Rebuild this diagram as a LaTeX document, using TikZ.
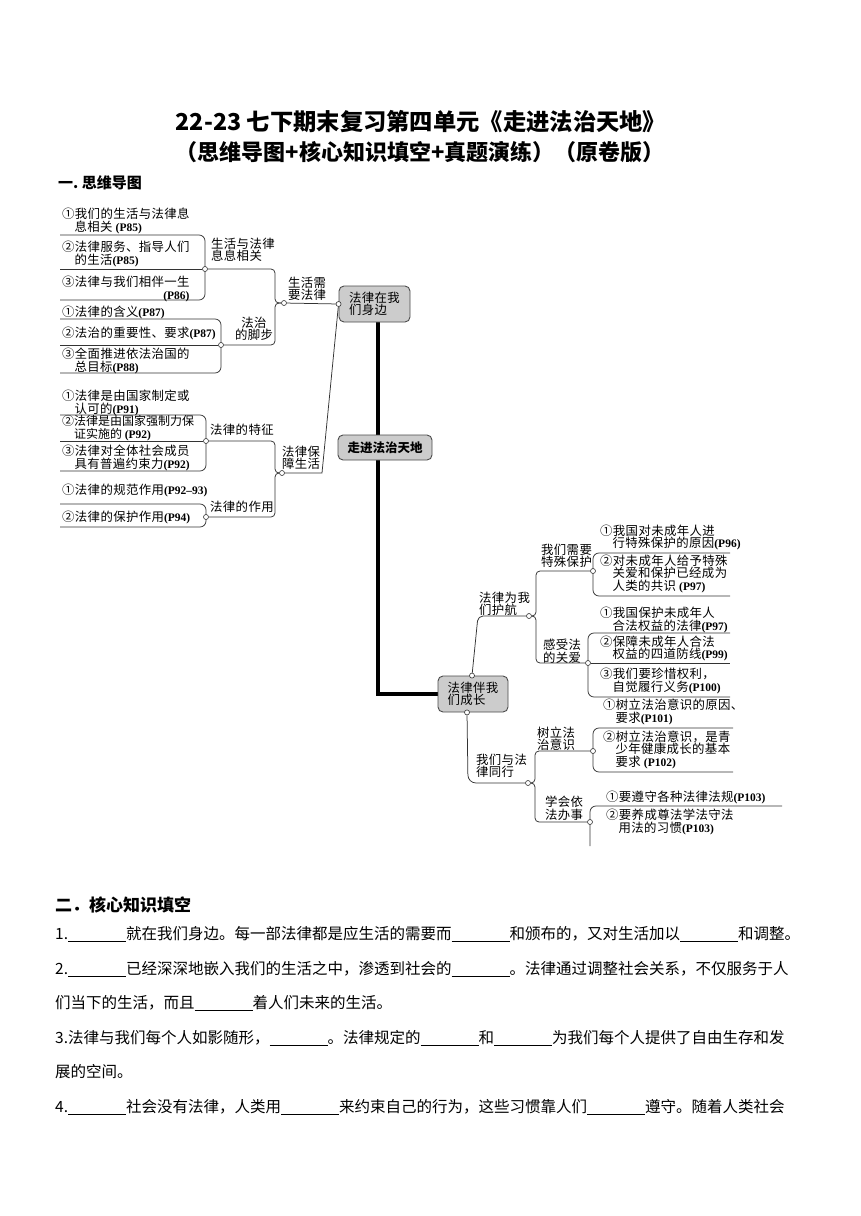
\documentclass[tikz,border=0pt]{standalone}
\usepackage{fontspec}
\setmainfont{Noto Sans CJK SC}
\newfontfamily\mmfont[LetterSpace=3]{Noto Sans CJK SC}
\newfontfamily\mmfontn{Noto Sans CJK SC}
\newfontfamily\latfont{Liberation Serif}
\usetikzlibrary{backgrounds}
\newcommand\pgnum[1]{{\latfont\bfseries\fontsize{11.5}{12.5}\selectfont(#1)}}
\newcommand\bk{\rule[-1.5pt]{58pt}{0.6pt}}
\begin{document}
\begin{tikzpicture}[x=1pt,y=-1pt,
  mm/.style={font=\mmfont\fontsize{12.4}{12.5}\selectfont, inner sep=0pt, align=left, anchor=west, text=black},
  mmc/.style={mm, anchor=center, align=center},
  ln/.style={line width=0.75pt, draw=black!80},
  dot/.style={circle, draw=black!80, fill=white, inner sep=0pt, minimum size=5pt, line width=0.6pt},
  box/.style={draw=black!70, fill=black!20, rounded corners=5pt, line width=0.9pt, inner sep=0pt, align=left, text=black},
  body/.style={anchor=west, inner sep=0pt, font=\fontsize{15.5}{18}\selectfont},
  thickln/.style={line width=4.5pt, draw=black}
]
\useasboundingbox (0,0) rectangle (860,1216);

% titles
\node[font=\fontsize{23.3}{26}\selectfont\bfseries] (t1) at (421,122) {22-23 七下期末复习第四单元《走进法治天地》};
\node[font=\fontsize{22}{26}\selectfont\bfseries] (t2) at (420,152) {（思维导图+核心知识填空+真题演练）（原卷版）};
\node[anchor=west, inner sep=0pt, font=\fontsize{15}{17}\selectfont\bfseries] (h1) at (58,183) {一.\ 思维导图};

% central boxes
\node[box, minimum width=71pt, minimum height=36pt, font=\mmfont\fontsize{12.4}{12.5}\selectfont] (box1) at (374.5,304) {法律在我\\们身边};
\node[box, minimum width=94pt, minimum height=25pt, font=\mmfontn\fontsize{12.5}{14}\selectfont\bfseries] (box3) at (385,447.5) {走进法治天地};
\node[box, minimum width=70pt, minimum height=36pt, font=\mmfont\fontsize{12.4}{12.5}\selectfont] (box2) at (473,694) {法律伴我\\们成长};
\node[dot] (d1) at (box1.west) {};
\node[dot] (dt) at ([xshift=-1pt]box2.north) {};
\node[dot] (db) at ([xshift=-6pt]box2.south) {};

% left upper: 生活需要法律
\node[mm] (a1) at (62,221) {①我们的生活与法律息\\\hspace*{1em}息相关 \pgnum{P85}};
\node[mm] (a2) at (62,254) {②法律服务、指导人们\\\hspace*{1em}的生活\pgnum{P85}};
\node[mm, align=right] (a3) at (62,289) {③法律与我们相伴一生\\\pgnum{P86}};
\node[dot] (jA) at (205,269) {};
\node[mm] (la) at (211,250) {生活与法律\\息息相关};
\node[mm] (b1) at (62,312) {①法律的含义\pgnum{P87}};
\node[mm] (b2) at (62,333) {②法治的重要性、要求\pgnum{P87}};
\node[mm] (b3) at (62,361) {③全面推进依法治国的\\\hspace*{1em}总目标\pgnum{P88}};
\node[dot] (jB) at (221,345) {};
\node[mmc] (lb) at (254,329) {法治\\的脚步};
\node[dot] (jS) at (284,303) {};
\node[mm] (ls) at (288,289) {生活需\\要法律};

% left lower: 法律保障生活
\node[mm] (c1) at (62,403) {①法律是由国家制定或\\\hspace*{1em}认可的\pgnum{P91}};
\node[mm, font=\mmfontn\fontsize{12}{12.5}\selectfont] (c2) at (62,428) {②法律是由国家强制力保\\\hspace*{1em}证实施的 \pgnum{P92}};
\node[mm] (c3) at (62,458) {③法律对全体社会成员\\\hspace*{1em}具有普遍约束力\pgnum{P92}};
\node[dot] (jC1) at (206,441) {};
\node[mm] (lc1) at (210,430) {法律的特征};
\node[mm] (c4) at (62,490) {①法律的规范作用\pgnum{P92–93}};
\node[mm] (c5) at (62,517) {②法律的保护作用\pgnum{P94}};
\node[dot] (jC2) at (206,517) {};
\node[mm] (lc2) at (210,507) {法律的作用};
\node[dot] (jC) at (282,473) {};
\node[mmc] (lc) at (301,458) {法律保\\障生活};

% right upper: 法律为我们护航
\node[dot] (jR1) at (529,616) {};
\node[mm] (lr1) at (479,604) {法律为我\\们护航};
\node[dot] (jR1a) at (593,571) {};
\node[mm] (lr1a) at (541,556) {我们需要\\特殊保护};
\node[mm] (r1) at (600,537.5) {①我国对未成年人进\\\hspace*{1em}行特殊保护的原因\pgnum{P96}};
\node[mm] (r2) at (600,573.5) {②对未成年人给予特殊\\\hspace*{1em}关爱和保护已经成为\\\hspace*{1em}人类的共识 \pgnum{P97}};
\node[dot] (jR1b) at (588,663) {};
\node[mm] (lr1b) at (543,651) {感受法\\的关爱};
\node[mm] (r3) at (600,620) {①我国保护未成年人\\\hspace*{1em}合法权益的法律\pgnum{P97}};
\node[mm] (r4) at (600,648.5) {②保障未成年人合法\\\hspace*{1em}权益的四道防线\pgnum{P99}};
\node[mm] (r5) at (600,681) {③我们要珍惜权利，\\\hspace*{1em}自觉履行义务\pgnum{P100}};

% right lower: 我们与法律同行
\node[dot] (jR2) at (528,783) {};
\node[mm] (lr2) at (476,766) {我们与法\\律同行};
\node[dot] (jR2a) at (593,751) {};
\node[mm] (lr2a) at (537,738.5) {树立法\\治意识};
\node[mm] (r6) at (603,712) {①树立法治意识的原因、\\\hspace*{1em}要求\pgnum{P101}};
\node[mm] (r7) at (603,749.5) {②树立法治意识，是青\\\hspace*{1em}少年健康成长的基本\\\hspace*{1em}要求 \pgnum{P102}};
\node[dot] (jR2b) at (590,822) {};
\node[mm] (lr2b) at (545,808) {学会依\\法办事};
\node[mm] (r8) at (606,797) {①要遵守各种法律法规\pgnum{P103}};
\node[mm] (r9) at (606,822) {②要养成尊法学法守法\\\hspace*{1em}用法的习惯\pgnum{P103}};

% section two
\node[anchor=west, inner sep=0pt, font=\fontsize{17}{19}\selectfont\bfseries] (h2) at (55,905) {二．核心知识填空};
\node[body] (p1) at (55,934) {1.\bk 就在我们身边。每一部法律都是应生活的需要而\bk 和颁布的，又对生活加以\bk 和调整。};
\node[body] (p2) at (55,969) {2.\bk 已经深深地嵌入我们的生活之中，渗透到社会的\bk 。法律通过调整社会关系，不仅服务于人};
\node[body] (p3) at (55,1003) {们当下的生活，而且\bk 着人们未来的生活。};
\node[body] (p4) at (55,1038) {3.法律与我们每个人如影随形，\bk 。法律规定的\bk 和\bk 为我们每个人提供了自由生存和发};
\node[body] (p5) at (55,1072) {展的空间。};
\node[body] (p6) at (55,1107) {4.\bk 社会没有法律，人类用\bk 来约束自己的行为，这些习惯靠人们\bk 遵守。随着人类社会};

\begin{scope}[on background layer]
\fill[white] (0,0) rectangle (860,1216);
% thick spine
\draw[thickln] ([xshift=3.5pt]box1.south) |- (box2.west);
% group A
\draw[ln, rounded corners=6pt] (60,235) -- (205,235) -- (205,300) -- (60,300);
\draw[ln] (60,269) -- (jA);
\draw[ln, rounded corners=4pt] (jA) -- (275,269) -- (275,303) -- (jS);
% group B
\draw[ln, rounded corners=6pt] (60,319) -- (221,319) -- (221,373) -- (60,373);
\draw[ln] (60,345) -- (jB);
\draw[ln, rounded corners=4pt] (jB) -- (275,345) -- (275,303) -- (jS);
\draw[ln] (jS) -- (d1);
% group C
\draw[ln, rounded corners=6pt] (60,415) -- (206,415) -- (206,471) -- (60,471);
\draw[ln] (60,441) -- (jC1);
\draw[ln, rounded corners=4pt] (jC1) -- (275,441) -- (275,473) -- (jC);
\draw[ln, rounded corners=6pt] (60,504) -- (206,504) -- (206,527) -- (60,527);
\draw[ln, rounded corners=4pt] (jC2) -- (275,517) -- (275,473) -- (jC);
\draw[ln] (jC) -- (322,473) -- (d1);
% right upper
\draw[ln, rounded corners=5pt] (dt) -- (478,616) -- (jR1);
\draw[ln, rounded corners=4pt] (jR1) -- (536,616) -- (536,571) -- (jR1a);
\draw[ln, rounded corners=4pt] (jR1) -- (536,616) -- (536,663) -- (jR1b);
\draw[ln, rounded corners=6pt] (730,553) -- (593,553) -- (593,596) -- (730,596);
\draw[ln, rounded corners=6pt] (730,633) -- (588,633) -- (588,697) -- (730,697);
\draw[ln] (jR1b) -- (730,663);
% right lower
\draw[ln, rounded corners=8pt] (db) -- (468,783) -- (jR2);
\draw[ln, rounded corners=4pt] (jR2) -- (535,783) -- (535,751) -- (jR2a);
\draw[ln, rounded corners=4pt] (jR2) -- (535,783) -- (535,822) -- (jR2b);
\draw[ln, rounded corners=6pt] (733,728) -- (593,728) -- (593,772) -- (733,772);
\draw[ln, rounded corners=6pt] (782,806) -- (590,806) -- (590,846);
\end{scope}
\end{tikzpicture}
\end{document}
